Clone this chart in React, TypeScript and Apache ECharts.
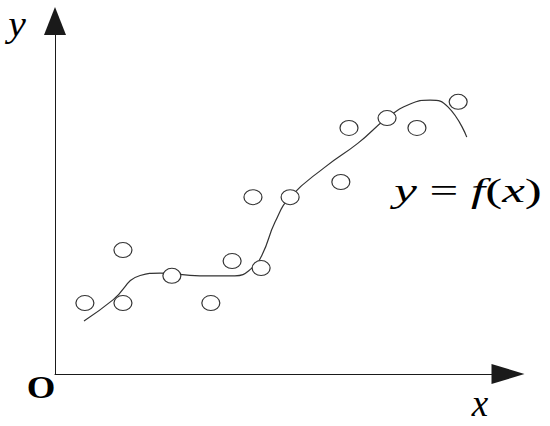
import React, { useEffect, useRef } from "react";
import * as echarts from "echarts";

// Scatter observations (x, y) in axis units (axes run 0..100)
const pointX = [6.6, 15.0, 15.0, 25.8, 34.4, 39.1, 43.7, 45.5, 51.9, 63.1, 64.9, 73.3, 79.9, 89.0];
const pointY = [20.1, 35.1, 20.1, 27.8, 20.1, 32.0, 50.1, 30.0, 50.1, 54.4, 69.7, 72.5, 69.7, 77.1];

// Fitted curve y = f(x)
const curveX = [6.4, 12.8, 18.8, 23.2, 32.0, 39.7, 43.5, 45.7, 48.6, 51.9, 59.6, 66.9, 73.3, 78.4, 82.8, 86.8, 90.9];
const curveY = [15.0, 21.0, 27.9, 28.6, 27.8, 27.8, 30.0, 33.7, 43.1, 50.1, 58.6, 65.4, 72.5, 76.5, 77.6, 75.6, 67.1];

const axisMin = 0;
const axisMax = 100;

const SERIF = "Liberation Serif, Times New Roman, serif";
const ELLIPSE = "path://M0 1A1 1 0 1 1 2 1A1 1 0 1 1 0 1Z";

export default function App() {
  const ref = useRef<HTMLDivElement>(null);

  useEffect(() => {
    if (!ref.current) return;
    const chart = echarts.init(ref.current, undefined, { renderer: "svg" });
    const scatterData = pointX.map((x, i) => [x, pointY[i]]);
    const curveData = curveX.map((x, i) => [x, curveY[i]]);
    const lineCol = "#1a1a1a";
    chart.setOption({
      animation: false,
      backgroundColor: "#ffffff",
      grid: { left: 55, right: 42, top: 21, bottom: 52, containLabel: false },
      xAxis: {
        type: "value",
        min: axisMin,
        max: axisMax,
        axisLine: {
          show: true,
          onZero: false,
          symbol: ["none", "triangle"],
          symbolSize: [20, 33],
          lineStyle: { color: lineCol, width: 1 },
        },
        axisTick: { show: false },
        axisLabel: { show: false },
        splitLine: { show: false },
      },
      yAxis: {
        type: "value",
        min: axisMin,
        max: axisMax,
        axisLine: {
          show: true,
          onZero: false,
          symbol: ["none", "triangle"],
          symbolSize: [22, 28],
          lineStyle: { color: lineCol, width: 1 },
        },
        axisTick: { show: false },
        axisLabel: { show: false },
        splitLine: { show: false },
      },
      series: [
        {
          type: "line",
          data: curveData,
          smooth: 0.5,
          showSymbol: false,
          lineStyle: { color: "#333", width: 1.2 },
          z: 2,
        },
        {
          type: "scatter",
          data: scatterData,
          symbol: ELLIPSE,
          symbolSize: [18, 15],
          itemStyle: { color: "#ffffff", borderColor: "#333", borderWidth: 1.1, opacity: 1 },
          z: 3,
        },
      ],
      graphic: [
        {
          type: "text",
          x: 17,
          y: 24,
          scaleX: 1.1,
          style: {
            text: "y",
            fontFamily: SERIF,
            fontStyle: "italic",
            fontSize: 36,
            fill: "#000",
            textAlign: "center",
            textVerticalAlign: "middle",
          },
        },
        {
          type: "text",
          x: 480,
          y: 403,
          style: {
            text: "x",
            fontFamily: SERIF,
            fontStyle: "italic",
            fontSize: 37,
            fill: "#000",
            textAlign: "center",
            textVerticalAlign: "middle",
          },
        },
        {
          type: "text",
          x: 41,
          y: 387,
          scaleX: 1.15,
          style: {
            text: "O",
            fontFamily: SERIF,
            fontWeight: "bold",
            fontSize: 32,
            fill: "#000",
            textAlign: "center",
            textVerticalAlign: "middle",
          },
        },
        {
          type: "text",
          x: 468,
          y: 190,
          scaleX: 1.5,
          style: {
            text: "{i|y} = {i|f}({i|x})",
            fontFamily: SERIF,
            fontSize: 34,
            fill: "#000",
            textAlign: "center",
            textVerticalAlign: "middle",
            rich: {
              i: { fontStyle: "italic", fontSize: 34, fontFamily: SERIF },
            },
          },
        },
      ],
    });
    return () => chart.dispose();
  }, []);

  return (
    <div
      ref={ref}
      style={{ position: "absolute", left: 0, top: 0, width: 550, height: 426, background: "#fff" }}
    />
  );
}
